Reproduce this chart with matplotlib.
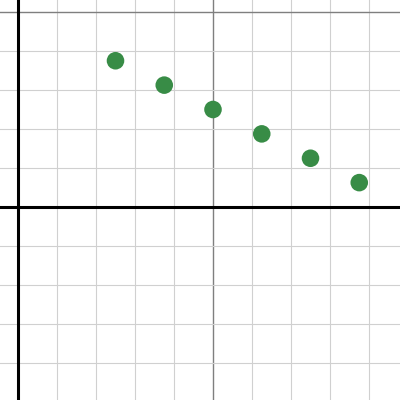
import matplotlib
matplotlib.use("Agg")
import matplotlib.pyplot as plt
import numpy as np

x_vals = [2.5, 3.75, 5.0, 6.25, 7.5, 8.75]
y_vals = [3.75, 3.125, 2.5, 1.875, 1.25, 0.625]

fig = plt.figure(figsize=(4, 4), dpi=100)
ax = fig.add_axes([0, 0, 1, 1])
ax.set_xlim(-18/39, 382/39)
ax.set_ylim(-193/39, 207/39)
for v in range(-1, 11):
    c, lw = ('#7f7f7f', 1.0) if v % 5 == 0 else ('#d0d0d0', 0.8)
    if v != 0:
        ax.axvline(v, color=c, lw=lw, zorder=1)
for v in range(-5, 6):
    c, lw = ('#7f7f7f', 1.0) if v % 5 == 0 else ('#d0d0d0', 0.8)
    if v != 0:
        ax.axhline(v, color=c, lw=lw, zorder=1)
ax.axvline(0, color='black', lw=2.2, zorder=2)
ax.axhline(0, color='black', lw=2.2, zorder=2)
ax.scatter(x_vals, y_vals, s=160, color='#388c46', edgecolors='none', zorder=3)
for s in ax.spines.values():
    s.set_visible(False)
ax.set_xticks([]); ax.set_yticks([])
fig.savefig('out.png', dpi=100)
